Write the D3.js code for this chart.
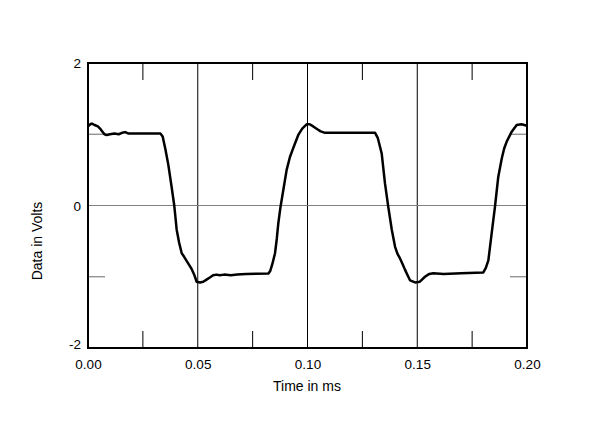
<!DOCTYPE html>
<html>
<head>
<meta charset="utf-8">
<script src="https://cdn.jsdelivr.net/npm/d3@7"></script>
<style>
  body { margin: 0; background: #fff; }
  svg text { font-family: "Liberation Sans", Arial, sans-serif; fill: #000; }
</style>
</head>
<body>
<div id="chart"></div>
<script>
const timeMs = [
  0.0000, 0.0010, 0.0018, 0.0030, 0.0045, 0.0055, 0.0065, 0.0075, 0.0085, 0.0100,
  0.0120, 0.0140, 0.0155, 0.0170, 0.0185, 0.0220, 0.0330, 0.0340, 0.0352, 0.0366,
  0.0380, 0.0393, 0.0404, 0.0415, 0.0427, 0.0438, 0.0450, 0.0462, 0.0472, 0.0485,
  0.0495, 0.0510, 0.0525, 0.0540, 0.0555, 0.0570, 0.0585, 0.0600, 0.0620, 0.0650,
  0.0680, 0.0720, 0.0822, 0.0830, 0.0840, 0.0852, 0.0860, 0.0867, 0.0877, 0.0890,
  0.0905, 0.0920, 0.0932, 0.0943, 0.0958, 0.0976, 0.0996, 0.1010, 0.1026, 0.1045,
  0.1060, 0.1080, 0.1200, 0.1308, 0.1320, 0.1338, 0.1353, 0.1368, 0.1384, 0.1399,
  0.1410, 0.1421, 0.1433, 0.1444, 0.1456, 0.1467, 0.1490, 0.1512, 0.1525, 0.1535,
  0.1555, 0.1573, 0.1620, 0.1700, 0.1801, 0.1812, 0.1824, 0.1839, 0.1854, 0.1869,
  0.1885, 0.1896, 0.1908, 0.1931, 0.1953, 0.1975, 0.2000
];
const volts = [
  1.11, 1.14, 1.15, 1.13, 1.11, 1.08, 1.04, 1.00, 0.99, 1.00,
  1.01, 1.00, 1.02, 1.03, 1.01, 1.01, 1.01, 0.97, 0.80, 0.57,
  0.28, 0.00, -0.34, -0.52, -0.67, -0.72, -0.78, -0.84, -0.89, -0.98,
  -1.07, -1.08, -1.07, -1.04, -1.01, -0.98, -0.97, -0.98, -0.97, -0.98,
  -0.97, -0.96, -0.955, -0.92, -0.82, -0.67, -0.47, -0.25, -0.02, 0.22,
  0.50, 0.68, 0.78, 0.87, 0.99, 1.08, 1.14, 1.14, 1.11, 1.07,
  1.04, 1.02, 1.02, 1.02, 0.95, 0.73, 0.31, -0.02, -0.34, -0.58,
  -0.68, -0.74, -0.82, -0.90, -0.98, -1.05, -1.08, -1.07, -1.03, -1.00,
  -0.96, -0.95, -0.96, -0.95, -0.94, -0.88, -0.77, -0.39, -0.02, 0.40,
  0.66, 0.80, 0.90, 1.04, 1.13, 1.14, 1.12
];

// Tick labels
const xTickValues = [0, 0.05, 0.10, 0.15, 0.20];
const xTickLabels = ["0.00", "0.05", "0.10", "0.15", "0.20"];
const xMinorTicks = [0.025, 0.075, 0.125, 0.175];
const xGridValues = [0.05, 0.10, 0.15];
const yTickValues = [-2, 0, 2];
const yTickLabels = ["-2", "0", "2"];
const yMinorTicks = [-1, 1];

const width = 600;
const height = 423;
const margin = { top: 63, right: 73, bottom: 75, left: 88 };
const fontSize = "13.5px";

const svg = d3.select("#chart").append("svg").attr("width", width).attr("height", height);

const x = d3.scaleLinear().domain([0, 0.2]).range([margin.left, width - margin.right]);
const y = d3.scaleLinear().domain([-2, 2]).range([height - margin.bottom, margin.top]);

// Grid lines
svg
  .append("g")
  .selectAll("line")
  .data(xGridValues)
  .enter()
  .append("line")
  .attr("x1", (d) => x(d))
  .attr("x2", (d) => x(d))
  .attr("y1", y(2))
  .attr("y2", y(-2))
  .attr("stroke", "#000")
  .attr("stroke-width", 1);

svg
  .append("line")
  .attr("x1", x(0))
  .attr("x2", x(0.2))
  .attr("y1", y(0))
  .attr("y2", y(0))
  .attr("stroke", "#808080")
  .attr("stroke-width", 1.2);

// Minor ticks along top and bottom
const tickLen = 17;
const minor = svg.append("g");
xMinorTicks.forEach((t) => {
  minor.append("line").attr("x1", x(t)).attr("x2", x(t)).attr("y1", y(2)).attr("y2", y(2) + tickLen).attr("stroke", "#000").attr("stroke-width", 1);
  minor.append("line").attr("x1", x(t)).attr("x2", x(t)).attr("y1", y(-2)).attr("y2", y(-2) - tickLen).attr("stroke", "#000").attr("stroke-width", 1);
});

// Minor ticks on left and right
yMinorTicks.forEach((v) => {
  minor.append("line").attr("x1", x(0)).attr("x2", x(0) + tickLen).attr("y1", y(v)).attr("y2", y(v)).attr("stroke", "#808080").attr("stroke-width", 1.2);
  minor.append("line").attr("x1", x(0.2)).attr("x2", x(0.2) - tickLen).attr("y1", y(v)).attr("y2", y(v)).attr("stroke", "#808080").attr("stroke-width", 1.2);
});

// Waveform
const points = timeMs.map((t, i) => [t, volts[i]]);
const line = d3
  .line()
  .x((d) => x(d[0]))
  .y((d) => y(d[1]));

svg
  .append("path")
  .datum(points)
  .attr("d", line)
  .attr("fill", "none")
  .attr("stroke", "#000")
  .attr("stroke-width", 2.5)
  .attr("stroke-linejoin", "round");

// Frame
svg
  .append("rect")
  .attr("x", x(0))
  .attr("y", y(2))
  .attr("width", x(0.2) - x(0))
  .attr("height", y(-2) - y(2))
  .attr("fill", "none")
  .attr("stroke", "#000")
  .attr("stroke-width", 2);

// Axes labels (no tick marks, labels only)
const xAxis = d3
  .axisBottom(x)
  .tickValues(xTickValues)
  .tickSize(0)
  .tickPadding(11)
  .tickFormat((d, i) => xTickLabels[i]);

svg
  .append("g")
  .attr("transform", `translate(0,${y(-2)})`)
  .call(xAxis)
  .call((g) => g.select(".domain").remove())
  .selectAll("text")
  .attr("font-size", fontSize)
  .attr("font-family", '"Liberation Sans", Arial, sans-serif');

const yAxis = d3
  .axisLeft(y)
  .tickValues(yTickValues)
  .tickSize(0)
  .tickPadding(7)
  .tickFormat((d, i) => yTickLabels[i]);

svg
  .append("g")
  .attr("transform", `translate(${x(0)},0)`)
  .call(yAxis)
  .call((g) => g.select(".domain").remove())
  .selectAll("text")
  .attr("font-size", fontSize)
  .attr("font-family", '"Liberation Sans", Arial, sans-serif')
  .attr("dy", (d) => (d === -2 ? "0.05em" : "0.35em"));

// Titles
svg
  .append("text")
  .attr("x", 307)
  .attr("y", 391)
  .attr("text-anchor", "middle")
  .attr("font-size", "14px")
  .text("Time in ms");

svg
  .append("text")
  .attr("transform", "translate(42,241) rotate(-90)")
  .attr("text-anchor", "middle")
  .attr("font-size", "14px")
  .text("Data in Volts");
</script>
</body>
</html>
